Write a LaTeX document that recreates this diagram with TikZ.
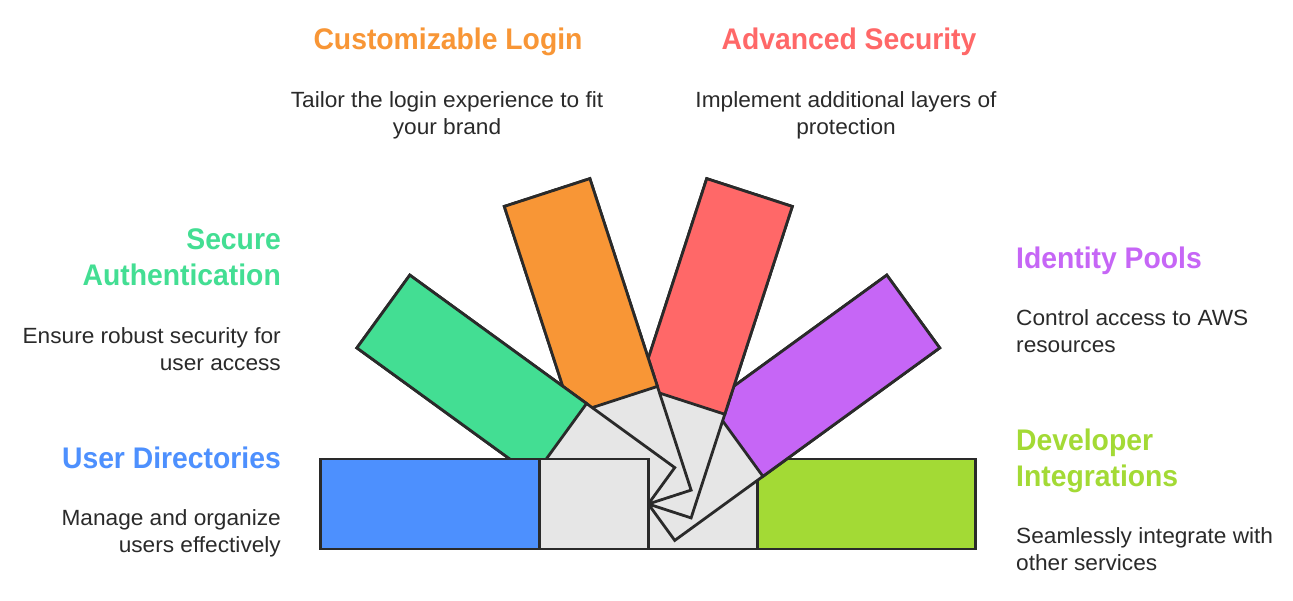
\documentclass[tikz,border=0pt]{standalone}
\usepackage{fontspec}
\setmainfont[FakeStretch=1.03]{Liberation Sans}
\newfontfamily\headfont[FakeStretch=0.95,UprightFont=* Bold]{Liberation Sans}
\definecolor{ink}{HTML}{2A2A2A}
\definecolor{spoke}{HTML}{E6E6E6}
\definecolor{cblue}{HTML}{4D90FE}
\definecolor{cgreen}{HTML}{43DE93}
\definecolor{corange}{HTML}{F89636}
\definecolor{cred}{HTML}{FF6868}
\definecolor{cpurple}{HTML}{C666F6}
\definecolor{clime}{HTML}{A3DA35}
\tikzset{
  x=1pt,y=-1pt,
  edge/.style={draw=ink,line width=2.8pt,line join=miter},
  head/.style={inner sep=0pt,font=\headfont\fontsize{29.8}{36}\selectfont},
  body/.style={inner sep=0pt,text=ink,font=\fontsize{22}{27}\selectfont},
  spokebar/.pic={
    \path[edge,fill=spoke] (0,-45) rectangle (-327.5,45);
    \path[edge,fill=#1] (-109,-45) rectangle (-327.5,45);
  },
}
\begin{document}
\begin{tikzpicture}
\useasboundingbox (0,0) rectangle (1293,600);
\fill[white] (0,0) rectangle (1293,600);
\coordinate (pivot) at (648.3,504);
\pic[rotate=-180,transform shape] at (pivot) {spokebar=clime};
\pic[rotate=-144,transform shape] at (pivot) {spokebar=cpurple};
\pic[rotate=-108,transform shape] at (pivot) {spokebar=cred};
\pic[rotate=-72,transform shape] at (pivot) {spokebar=corange};
\pic[rotate=-36,transform shape] at (pivot) {spokebar=cgreen};
\pic at (pivot) {spokebar=cblue};
\node[head,text=corange,anchor=base,align=center] (t1) at (448,49) {Customizable Login};
\node[body,anchor=base,align=center] (b1) at (447,134) {Tailor the login experience to fit\\your brand};
\node[head,text=cred,anchor=base,align=center] (t2) at (849,49) {Advanced Security};
\node[body,anchor=base,align=center] (b2) at (846,134) {Implement additional layers of\\protection};
\node[head,text=cgreen,anchor=base east,align=right] (t3) at (281,285) {Secure\\Authentication};
\node[body,anchor=base east,align=right] (b3) at (281,370) {Ensure robust security for\\user access};
\node[head,text=cblue,anchor=base east] (t4) at (281,468) {User Directories};
\node[body,anchor=base east,align=right] (b4) at (281,552) {Manage and organize\\users effectively};
\node[head,text=cpurple,anchor=base west] (t5) at (1016,268) {Identity Pools};
\node[body,anchor=base west,align=left] (b5) at (1016,352) {Control access to AWS\\resources};
\node[head,text=clime,anchor=base west,align=left] (t6) at (1016,486) {Developer\\Integrations};
\node[body,anchor=base west,align=left] (b6) at (1016,570) {Seamlessly integrate with\\other services};
\end{tikzpicture}
\end{document}
